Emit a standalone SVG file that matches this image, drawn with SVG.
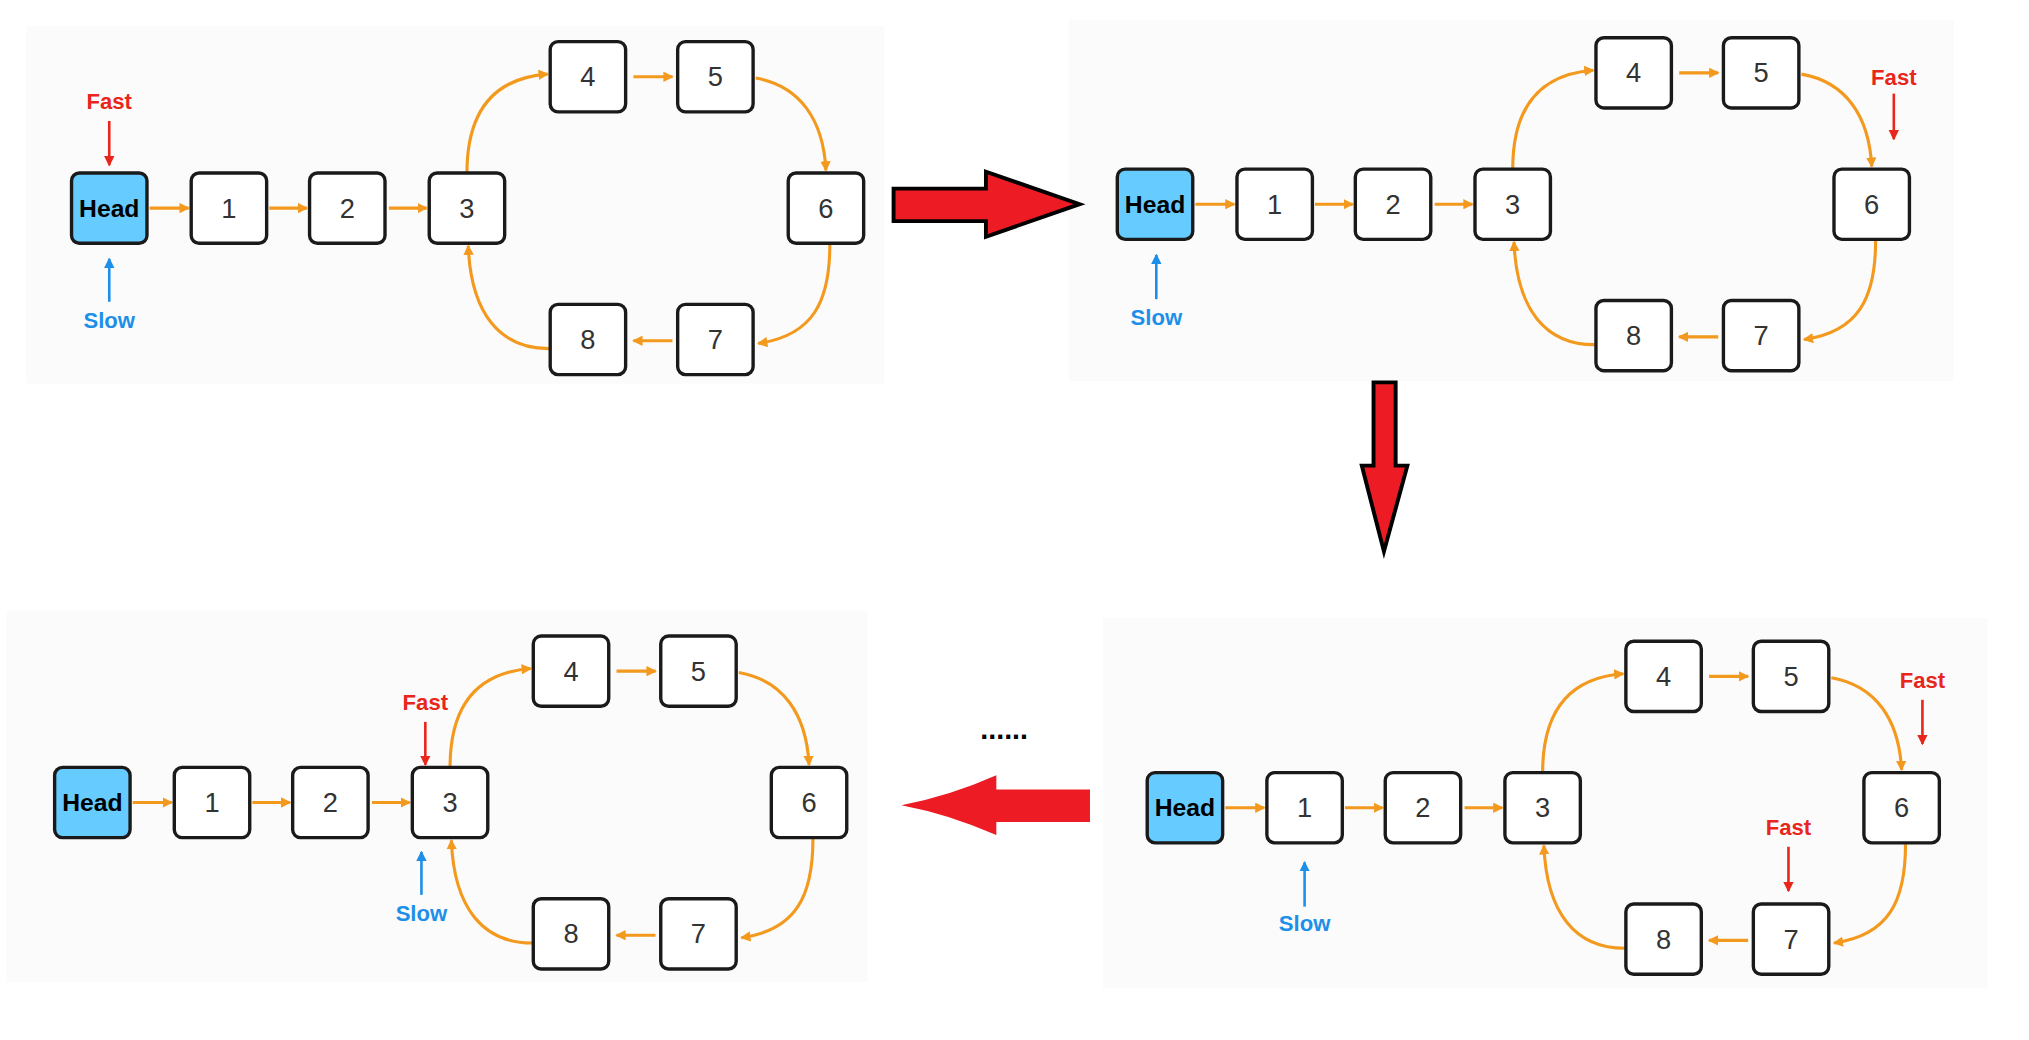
<svg xmlns="http://www.w3.org/2000/svg" width="2029" height="1040" viewBox="0 0 2029 1040">
<style>
.n rect{fill:#fff;stroke:#1a1a1a;stroke-width:2.6}
.n.h rect{fill:#66ccff}
.n text{font-family:"Liberation Sans",Arial,sans-serif;font-size:21px;fill:#333;text-anchor:middle;dominant-baseline:central}
.n.h text{fill:#000;font-size:19px;font-weight:bold}
.c path,.c line{fill:none;stroke:#f39a1e;stroke-width:2.4;marker-end:url(#oa)}
.fast{font-family:"Liberation Sans",Arial,sans-serif;font-size:17px;font-weight:bold;fill:#e8261c;text-anchor:middle}
.slow{font-family:"Liberation Sans",Arial,sans-serif;font-size:17px;font-weight:bold;fill:#1e8fe8;text-anchor:middle}
.fa{stroke:#e8261c;stroke-width:2;marker-end:url(#ra)}
.sa{stroke:#1e8fe8;stroke-width:2;marker-end:url(#ba)}
</style>
<defs>
<marker id="oa" markerWidth="8" markerHeight="8" refX="7" refY="4" orient="auto" markerUnits="userSpaceOnUse"><path d="M0,0 L8,4 L0,8 Z" fill="#f39a1e"/></marker>
<marker id="ra" markerWidth="8" markerHeight="10" refX="7" refY="5" orient="auto" markerUnits="userSpaceOnUse"><path d="M0,1 L8,5 L0,9 Z" fill="#e8261c"/></marker>
<marker id="ba" markerWidth="8" markerHeight="10" refX="7" refY="5" orient="auto" markerUnits="userSpaceOnUse"><path d="M0,1 L8,5 L0,9 Z" fill="#1e8fe8"/></marker>
<g id="tpl-c" class="c">
<line x1="115" y1="160" x2="145" y2="160"/>
<line x1="207" y1="160" x2="236" y2="160"/>
<line x1="299" y1="160" x2="328" y2="160"/>
<line x1="487" y1="59" x2="517" y2="59"/>
<line x1="517" y1="262" x2="487" y2="262"/>
<path d="M359,133 C359,85 380,60 421,57"/>
<path d="M581,60 C615,66 633,92 635,131"/>
<path d="M638,188 C638,232 625,258 583,264"/>
<path d="M422,268 C385,268 362,242 360,189"/>
</g>
</defs>
<rect width="2029" height="1040" fill="#fff"/>
<g transform="scale(1.3007)">
<rect x="20" y="20" width="660" height="275" fill="#fbfbfb"/>
<rect x="822" y="15" width="680" height="278" fill="#fbfbfb"/>
<rect x="5" y="470" width="662" height="285" fill="#fbfbfb"/>
<rect x="848" y="475" width="680" height="285" fill="#fbfbfb"/>

<!-- Panel 1 -->
<g id="panel1">
<g id="connectors1"><use href="#tpl-c"/></g>
<g id="p1-head" class="n h"><rect x="55" y="133" width="58" height="54" rx="6"/><text x="84" y="160">Head</text></g>
<g id="p1-n1" class="n"><rect x="147" y="133" width="58" height="54" rx="6"/><text x="176" y="160">1</text></g>
<g id="p1-n2" class="n"><rect x="238" y="133" width="58" height="54" rx="6"/><text x="267" y="160">2</text></g>
<g id="p1-n3" class="n"><rect x="330" y="133" width="58" height="54" rx="6"/><text x="359" y="160">3</text></g>
<g id="p1-n4" class="n"><rect x="423" y="32" width="58" height="54" rx="6"/><text x="452" y="59">4</text></g>
<g id="p1-n5" class="n"><rect x="521" y="32" width="58" height="54" rx="6"/><text x="550" y="59">5</text></g>
<g id="p1-n6" class="n"><rect x="606" y="133" width="58" height="54" rx="6"/><text x="635" y="160">6</text></g>
<g id="p1-n7" class="n"><rect x="521" y="234" width="58" height="54" rx="6"/><text x="550" y="261">7</text></g>
<g id="p1-n8" class="n"><rect x="423" y="234" width="58" height="54" rx="6"/><text x="452" y="261">8</text></g>
</g>
<g id="panel2" transform="translate(804,-3)">
<g id="connectors2"><use href="#tpl-c"/></g>
<g id="p2-head" class="n h"><rect x="55" y="133" width="58" height="54" rx="6"/><text x="84" y="160">Head</text></g>
<g id="p2-n1" class="n"><rect x="147" y="133" width="58" height="54" rx="6"/><text x="176" y="160">1</text></g>
<g id="p2-n2" class="n"><rect x="238" y="133" width="58" height="54" rx="6"/><text x="267" y="160">2</text></g>
<g id="p2-n3" class="n"><rect x="330" y="133" width="58" height="54" rx="6"/><text x="359" y="160">3</text></g>
<g id="p2-n4" class="n"><rect x="423" y="32" width="58" height="54" rx="6"/><text x="452" y="59">4</text></g>
<g id="p2-n5" class="n"><rect x="521" y="32" width="58" height="54" rx="6"/><text x="550" y="59">5</text></g>
<g id="p2-n6" class="n"><rect x="606" y="133" width="58" height="54" rx="6"/><text x="635" y="160">6</text></g>
<g id="p2-n7" class="n"><rect x="521" y="234" width="58" height="54" rx="6"/><text x="550" y="261">7</text></g>
<g id="p2-n8" class="n"><rect x="423" y="234" width="58" height="54" rx="6"/><text x="452" y="261">8</text></g>
</g>
<g id="panel3" transform="translate(-13,457)">
<g id="connectors3"><use href="#tpl-c"/></g>
<g id="p3-head" class="n h"><rect x="55" y="133" width="58" height="54" rx="6"/><text x="84" y="160">Head</text></g>
<g id="p3-n1" class="n"><rect x="147" y="133" width="58" height="54" rx="6"/><text x="176" y="160">1</text></g>
<g id="p3-n2" class="n"><rect x="238" y="133" width="58" height="54" rx="6"/><text x="267" y="160">2</text></g>
<g id="p3-n3" class="n"><rect x="330" y="133" width="58" height="54" rx="6"/><text x="359" y="160">3</text></g>
<g id="p3-n4" class="n"><rect x="423" y="32" width="58" height="54" rx="6"/><text x="452" y="59">4</text></g>
<g id="p3-n5" class="n"><rect x="521" y="32" width="58" height="54" rx="6"/><text x="550" y="59">5</text></g>
<g id="p3-n6" class="n"><rect x="606" y="133" width="58" height="54" rx="6"/><text x="635" y="160">6</text></g>
<g id="p3-n7" class="n"><rect x="521" y="234" width="58" height="54" rx="6"/><text x="550" y="261">7</text></g>
<g id="p3-n8" class="n"><rect x="423" y="234" width="58" height="54" rx="6"/><text x="452" y="261">8</text></g>
</g>
<g id="panel4" transform="translate(827,461)">
<g id="connectors4"><use href="#tpl-c"/></g>
<g id="p4-head" class="n h"><rect x="55" y="133" width="58" height="54" rx="6"/><text x="84" y="160">Head</text></g>
<g id="p4-n1" class="n"><rect x="147" y="133" width="58" height="54" rx="6"/><text x="176" y="160">1</text></g>
<g id="p4-n2" class="n"><rect x="238" y="133" width="58" height="54" rx="6"/><text x="267" y="160">2</text></g>
<g id="p4-n3" class="n"><rect x="330" y="133" width="58" height="54" rx="6"/><text x="359" y="160">3</text></g>
<g id="p4-n4" class="n"><rect x="423" y="32" width="58" height="54" rx="6"/><text x="452" y="59">4</text></g>
<g id="p4-n5" class="n"><rect x="521" y="32" width="58" height="54" rx="6"/><text x="550" y="59">5</text></g>
<g id="p4-n6" class="n"><rect x="606" y="133" width="58" height="54" rx="6"/><text x="635" y="160">6</text></g>
<g id="p4-n7" class="n"><rect x="521" y="234" width="58" height="54" rx="6"/><text x="550" y="261">7</text></g>
<g id="p4-n8" class="n"><rect x="423" y="234" width="58" height="54" rx="6"/><text x="452" y="261">8</text></g>
</g>

<!-- Pointers -->
<g id="pointers">
<text class="fast" x="84" y="84">Fast</text><line class="fa" x1="84" y1="93" x2="84" y2="127"/>
<line class="sa" x1="84" y1="232" x2="84" y2="199"/><text class="slow" x="84" y="252">Slow</text>
<text class="fast" x="1456" y="65">Fast</text><line class="fa" x1="1456" y1="72" x2="1456" y2="107"/>
<line class="sa" x1="889" y1="230" x2="889" y2="196"/><text class="slow" x="889" y="250">Slow</text>
<text class="fast" x="327" y="546">Fast</text><line class="fa" x1="327" y1="555" x2="327" y2="588"/>
<line class="sa" x1="324" y1="688" x2="324" y2="655"/><text class="slow" x="324" y="708">Slow</text>
<text class="fast" x="1478" y="529">Fast</text><line class="fa" x1="1478" y1="538" x2="1478" y2="572"/>
<text class="fast" x="1375" y="642">Fast</text><line class="fa" x1="1375" y1="651" x2="1375" y2="685"/>
<line class="sa" x1="1003" y1="697" x2="1003" y2="663"/><text class="slow" x="1003" y="716">Slow</text>
</g>

<!-- Big arrows -->
<g id="big-arrows">
<path d="M687,145 H758 V132 L830,157 L758,182 V170 H687 Z" fill="#ed1c24" stroke="#000" stroke-width="3"/>
<path d="M1056,294 H1073 V358 H1082 L1064,424 L1047,358 H1056 Z" fill="#ed1c24" stroke="#000" stroke-width="3"/>
<path d="M838,607 H766 V596 Q730,612 693,619 Q730,626 766,642 V632 H838 Z" fill="#ed1c24"/>
<text x="772" y="568" font-family="Liberation Sans,Arial,sans-serif" font-size="22" font-weight="bold" text-anchor="middle" fill="#000">......</text>
</g>
</g>
</svg>
